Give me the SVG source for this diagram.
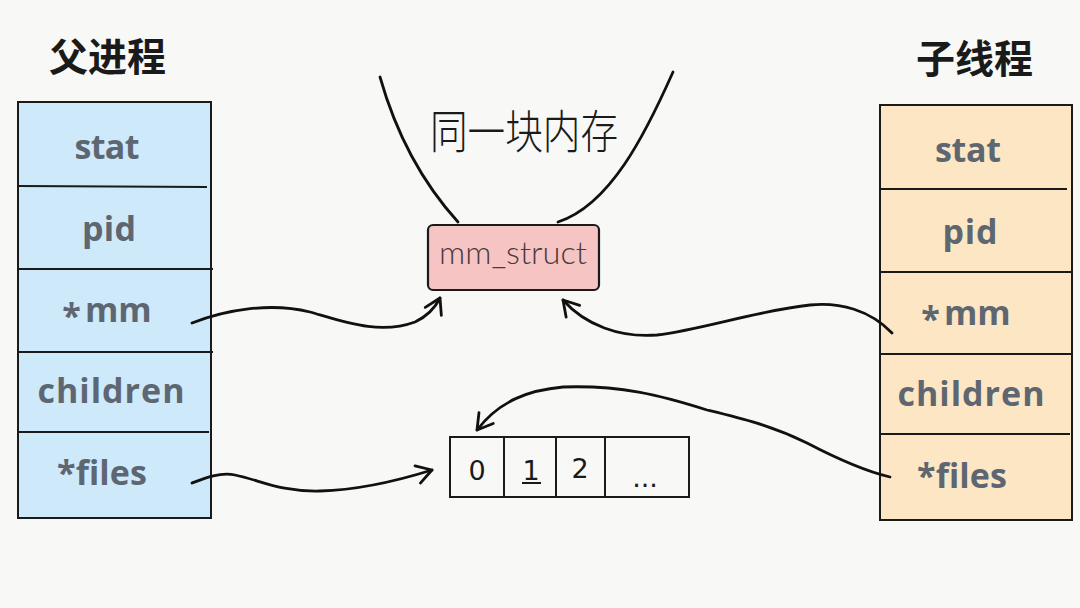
<svg xmlns="http://www.w3.org/2000/svg" width="1080" height="608" viewBox="0 0 1080 608">
<defs>
<marker id="open" markerUnits="userSpaceOnUse" markerWidth="40" markerHeight="40" viewBox="-20 -20 40 40" refX="0" refY="0" orient="auto">
<path d="M-15,-9 L0,0 L-15,9" fill="none" stroke="#111" stroke-width="2.8" stroke-linecap="round" stroke-linejoin="round"/>
</marker>
</defs>
<style>
.panel{stroke:#1a1a1a;stroke-width:2;}
.blue{fill:#cde9fa;}
.orange{fill:#fce6c4;}
.div{stroke:#1a1a1a;stroke-width:2.2;fill:none;}
.field{font-family:"Open Sans","Noto Sans",sans-serif;font-weight:700;font-size:34px;fill:#5e6771;text-anchor:middle;}
.title{font-family:"Noto Sans CJK SC",sans-serif;font-weight:700;font-size:39px;fill:#1a1a1a;}
.conn{fill:none;stroke:#111;stroke-width:2.8;stroke-linecap:round;stroke-linejoin:round;}
.hand{font-family:"DejaVu Sans",sans-serif;font-size:27px;fill:#1a1a1a;text-anchor:middle;}
.cell{fill:none;stroke:#1a1a1a;stroke-width:2;}
</style>
<rect width="1080" height="608" fill="#f8f8f6"/>

<g id="parent-process">
<text class="title" x="49" y="71">父进程</text>
<rect class="panel blue" x="18" y="102" width="193" height="416"/>
<path class="div" d="M19,186 L207,187 M19,269 L213,269 M19,352 L213,352 M19,432 L209,432"/>
<text class="field" x="107" y="159" textLength="65">stat</text>
<text class="field" x="109" y="241" textLength="54">pid</text>
<text class="field" x="107" y="322"><tspan dy="6">*</tspan><tspan dx="4" dy="-6">mm</tspan></text>
<text class="field" x="111" y="403" textLength="147">children</text>
<text class="field" x="102" y="485" textLength="90">*files</text>
</g>

<g id="child-thread">
<text class="title" x="916" y="73">子线程</text>
<rect class="panel orange" x="880" y="105" width="192" height="415"/>
<path class="div" d="M881,189 L1067,189 M881,272 L1073,272 M881,354 L1073,354 M881,434 L1070,434"/>
<text class="field" x="968" y="162" textLength="66">stat</text>
<text class="field" x="970" y="244" textLength="55">pid</text>
<text class="field" x="966" y="325"><tspan dy="6">*</tspan><tspan dx="4" dy="-6">mm</tspan></text>
<text class="field" x="971" y="406" textLength="147">children</text>
<text class="field" x="962" y="488" textLength="90">*files</text>
</g>

<g id="shared-memory-label">
<path class="conn" d="M380,77 C395,130 420,180 458,222"/>
<path class="conn" d="M673,72 C645,135 610,205 558,222"/>
<text x="430" y="148" font-family="Noto Sans CJK SC, sans-serif" font-weight="300" font-size="46" fill="#1a1a1a" textLength="188" lengthAdjust="spacingAndGlyphs">同一块内存</text>
</g>

<g id="mm-struct">
<rect x="428" y="225" width="171" height="65" rx="5" fill="#f7c4c4" stroke="#1a1a1a" stroke-width="2.2"/>
<text x="513" y="264" font-family="Lato, 'Open Sans', sans-serif" font-weight="300" font-size="31" fill="#4a3b3b" text-anchor="middle" textLength="148" lengthAdjust="spacingAndGlyphs">mm_struct</text>
</g>

<g id="fd-array">
<rect class="cell" x="450" y="437" width="239" height="60"/>
<path class="cell" d="M504,437 L504,497 M556,437 L556,497 M605,437 L605,497"/>
<text class="hand" x="477" y="480">0</text>
<text class="hand" x="531" y="480">1</text>
<path class="cell" d="M522,483 L541,483"/>
<text class="hand" x="580" y="478">2</text>
<text class="hand" x="645" y="487">...</text>
</g>

<g id="connectors">
<path class="conn" marker-end="url(#open)" d="M192,323 C225,310 270,302 310,312 C345,322 380,335 415,322 Q432,314 440,298"/>
<path class="conn" marker-end="url(#open)" d="M192,483 C205,478 220,472 235,475 C260,480 280,492 320,491 C360,490 400,480 432,470"/>
<path class="conn" marker-end="url(#open)" d="M892,333 C870,310 840,302 810,305 C760,310 700,330 657,335 C620,338 585,325 563,300"/>
<path class="conn" marker-end="url(#open)" d="M890,477 C860,470 830,455 807,443 C770,425 740,418 707,410 C660,395 620,385 563,387 C530,390 500,400 477,430"/>
</g>
</svg>
